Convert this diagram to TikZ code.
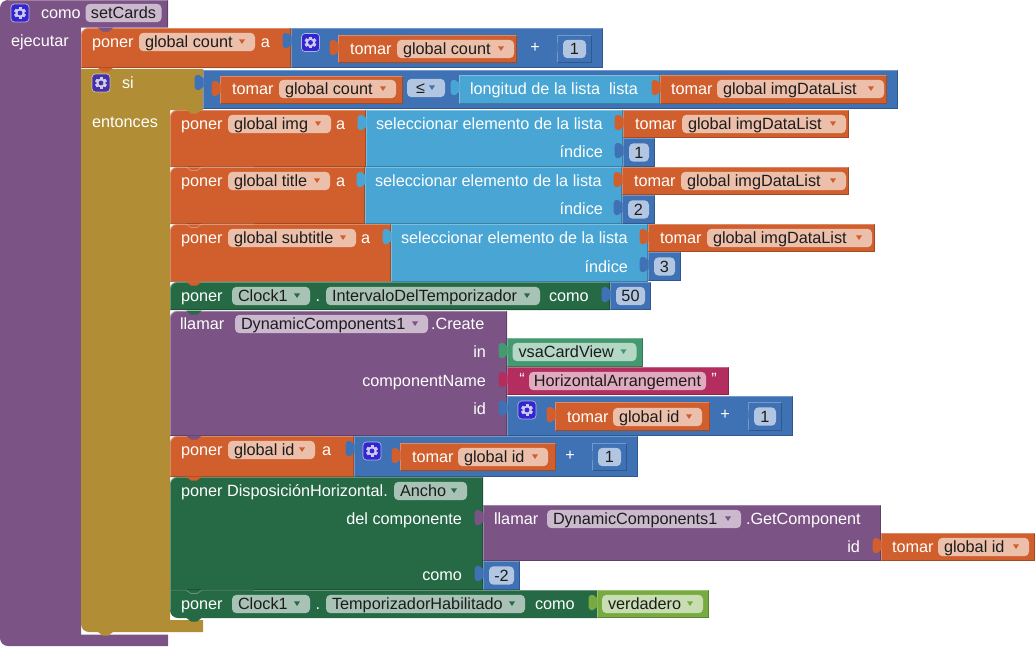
\documentclass[tikz,border=0pt]{standalone}
\usepackage{fontspec}
\setmainfont{Liberation Sans}
\definecolor{cpurple}{HTML}{7C5385}
\definecolor{corange}{HTML}{D05F2D}
\definecolor{cblue}{HTML}{3F71B5}
\definecolor{clight}{HTML}{49A6D4}
\definecolor{cgold}{HTML}{B18E35}
\definecolor{cdgreen}{HTML}{266A45}
\definecolor{cgreen}{HTML}{439A70}
\definecolor{cpink}{HTML}{B32D5E}
\definecolor{clime}{HTML}{77AB41}
\definecolor{cgear}{HTML}{3326D0}
\definecolor{cgeardark}{HTML}{4530A6}
\definecolor{forange}{HTML}{ECBFAB}
\definecolor{fblue}{HTML}{B2C6E1}
\definecolor{fdgreen}{HTML}{A8C3B5}
\definecolor{fpurple}{HTML}{CBBACE}
\definecolor{fpink}{HTML}{E1ABBF}
\definecolor{fgreen}{HTML}{B4D7C6}
\definecolor{flime}{HTML}{C9DDB3}
\definecolor{ctext}{HTML}{1C1C1C}
\newcounter{tn}
\tikzset{
  lab/.style={inner sep=0pt,outer sep=0pt,text=white,font=\fontsize{16.25}{18}\selectfont},
  fieldtxt/.style={lab,text=ctext},
  hi/.style={white,opacity=.28,line width=.8pt},
  lo/.style={black,opacity=.22,line width=.8pt},
}
% plain block
\newcommand\blk[5]{%
  \fill[#1] (#2,#3) rectangle (#4,#5);
  \draw[hi] (#2+.4,#5) -- (#2+.4,#3+.4) -- (#4,#3+.4);
  \draw[lo] (#4-.4,#3) -- (#4-.4,#5-.4) -- (#2,#5-.4);}
% block with rounded top-left corner
\newcommand\rblk[5]{%
  \fill[#1] (#2,#5) [rounded corners=7pt] -- (#2,#3) [sharp corners] -- (#4,#3) -- (#4,#5) -- cycle;
  \draw[hi] (#2+.4,#5) [rounded corners=7pt] -- (#2+.4,#3+.4) [sharp corners] -- (#4,#3+.4);
  \draw[lo] (#4-.4,#3) -- (#4-.4,#5-.4) -- (#2,#5-.4);}
% puzzle tab on the left of a block: colour, x, top y of block
\newcommand\tab[3]{%
  \fill[#1] (#2+.5,#3+8) -- (#2,#3+8) .. controls (#2-1.5,#3+8) and (#2-1.5,#3+5.5) .. (#2-4,#3+5)
     .. controls (#2-7,#3+4.5) and (#2-8.5,#3+6) .. (#2-8.5,#3+10)
     -- (#2-8.5,#3+15) .. controls (#2-8.5,#3+19) and (#2-7,#3+20.5) .. (#2-4,#3+20)
     .. controls (#2-1.5,#3+19.5) and (#2-1.5,#3+17) .. (#2,#3+17) -- (#2+.5,#3+17) -- cycle;}
% statement wedge
\newcommand\wedg[3]{%
  \fill[#1] (#2-8,#3-.5) -- (#2-3,#3+3.5) -- (#2+3,#3+3.5) -- (#2+8,#3-.5) -- cycle;}
% faint wedge between blocks of one colour
\newcommand\fwedg[2]{%
  \draw[white,opacity=.3,line width=.7pt] (#1-24,#2) -- (#1-8,#2) -- (#1-3,#2+3.5) -- (#1+3,#2+3.5) -- (#1+8,#2) -- (#1+60,#2);}
\newcommand\lbl[3]{\stepcounter{tn}\node[lab,anchor=base west] (t\thetn) at (#1,#2+5.5) {#3};}
\newcommand\rlbl[3]{\stepcounter{tn}\node[lab,anchor=base east] (t\thetn) at (#1,#2+5.5) {#3};}
\newcommand\clbl[3]{\stepcounter{tn}\node[lab,anchor=base] (t\thetn) at (#1,#2+5.5) {#3};}
% dropdown field: x1,x2,yc,fill,arrow,text
\newcommand\dd[6]{%
  \fill[#4,rounded corners=4.5pt] (#1,#3-9.2) rectangle (#2,#3+9.2);
  \fill[#5] (#2-16,#3-2.6) -- (#2-10,#3-2.6) -- (#2-13,#3+2) -- cycle;
  \stepcounter{tn}\node[fieldtxt,anchor=base west] (t\thetn) at (#1+6,#3+5.5) {#6};}
% text field without arrow
\newcommand\tf[5]{%
  \fill[#4,rounded corners=4.5pt] (#1,#3-9.2) rectangle (#2,#3+9.2);
  \stepcounter{tn}\node[fieldtxt,anchor=base] (t\thetn) at ({(#1+#2)/2},#3+5.5) {#5};}
% gear: cx,cy
\newcommand\gear[3][cgear]{%
  \fill[#1,draw=white,draw opacity=.6,line width=.7pt,rounded corners=3.5pt] (#2-9,#3-9) rectangle (#2+9,#3+9);
  \foreach \a in {0,60,...,300}{\fill[#1!25!white,rotate around={\a:(#2,#3)}] (#2-1.5,#3-5.8) rectangle (#2+1.5,#3+5.8);}
  \fill[#1!25!white] (#2,#3) circle (4.6pt);
  \fill[#1] (#2,#3) circle (2.4pt);}
% tomar block: x1,x2,y1,y2,text x,field x1,x2,yc,text
\newcommand\tomar[8]{%
  \blk{corange}{#1}{#3}{#2}{#4}\tab{corange}{#1}{#3}
  \lbl{#5}{#8}{tomar}
  \dd{#6}{#7}{#8}{forange}{corange}}
% number block
\newcommand\numb[5]{%
  \blk{cblue}{#1}{#3}{#2}{#4}\tab{cblue}{#1}{#3}
  \pgfmathsetmacro\ymid{(#3+#4)/2}
  \tf{#1+6}{#2-6}{\ymid}{fblue}{#5}}
\begin{document}
\begin{tikzpicture}[x=1pt,y=-1pt]
\useasboundingbox (0,0) rectangle (1035,646);
% procedure
\fill[cpurple] (30,646) [rounded corners=8pt] -- (0,646) -- (0,0) [sharp corners] -- (168,0) -- (168,27.5) -- (81,27.5) -- (81,634.5) -- (168,634.5) -- (168,646) -- cycle;
\draw[hi] (168,.4) -- (8,.4);
\draw[lo] (167.6,0) -- (167.6,27);
\gear{20}{13}
\lbl{41}{13}{como}
\tf{85.5}{161.5}{13}{fpurple}{setCards}
\lbl{11}{41}{ejecutar}
% if block
\fill[cgold] (81,69) -- (203,69) -- (203,110) -- (170,110) -- (170,620) -- (203,620) -- (203,632) [rounded corners=8pt] -- (81,632) [sharp corners] -- cycle;
\wedg{cgold}{105.5}{632}
\gear[cgeardark]{101}{83}
\lbl{122}{83}{si}
\lbl{92}{122}{entonces}
% first set
\rblk{corange}{81}{28}{291}{68}
\wedg{cpurple}{105.5}{28}
\wedg{corange}{105.5}{68}
\lbl{92}{42}{poner}
\dd{139}{255}{42}{forange}{corange}{global count}
\rlbl{270}{42}{a}
\blk{cblue}{291}{28}{603}{68}\tab{cblue}{291}{28}
\gear{310.5}{42.5}
\tomar{338}{517}{35}{63}{350}{397}{514}{49}{global count}
\clbl{535}{47}{+}
\numb{557}{592}{35}{63}{1}
% condition
\blk{cblue}{203}{70}{898}{109}\tab{cblue}{203}{70}
\tomar{220}{403}{76}{104}{232}{279}{396}{89}{global count}
\dd{407}{445}{88}{fblue}{cblue}{\hspace{3pt}≤}
\blk{clight}{459}{75}{660}{104}\tab{clight}{459}{75}
\lbl{470}{89}{longitud de la lista\hspace{4.5pt} lista}
\tomar{660}{887}{75}{104}{671}{717}{884}{89}{global imgDataList}
% global img
\rblk{corange}{170}{110}{366}{167}
\wedg{cgold}{194}{110}
\lbl{181}{124}{poner}
\dd{228}{331}{124}{forange}{corange}{global img}
\lbl{336}{124}{a}
\blk{clight}{366}{110}{623}{167}\tab{clight}{366}{110}
\lbl{376}{124}{seleccionar elemento de la lista}
\rlbl{603}{152}{índice}
\tomar{623}{849}{110}{138}{635}{682}{846}{124}{global imgDataList}
\numb{623}{655}{138}{167}{1}
% global title
\rblk{corange}{170}{167}{365}{224}
\fwedg{194}{167}
\lbl{181}{181}{poner}
\dd{228}{330}{181}{forange}{corange}{global title}
\lbl{336}{181}{a}
\blk{clight}{365}{167}{622}{224}\tab{clight}{365}{167}
\lbl{375}{181}{seleccionar elemento de la lista}
\rlbl{603}{209}{índice}
\tomar{622}{849}{167}{195}{634}{681}{846}{181}{global imgDataList}
\numb{622}{655}{195}{224}{2}
% global subtitle
\rblk{corange}{170}{224}{391}{281.5}
\fwedg{194}{224}
\lbl{181}{238}{poner}
\dd{228}{356}{238}{forange}{corange}{global subtitle}
\lbl{361}{238}{a}
\blk{clight}{391}{224}{648}{281.5}\tab{clight}{391}{224}
\lbl{401}{238}{seleccionar elemento de la lista}
\rlbl{628}{267}{índice}
\tomar{648}{875}{224}{252}{660}{707}{872}{238}{global imgDataList}
\numb{648}{681}{252}{281}{3}
% clock interval
\rblk{cdgreen}{170}{282}{610}{310}
\wedg{corange}{194}{282}
\lbl{181}{296}{poner}
\dd{232}{310}{296}{fdgreen}{cdgreen}{Clock1}
\clbl{318}{296}{.}
\dd{326}{540}{296}{fdgreen}{cdgreen}{IntervaloDelTemporizador}
\lbl{549}{296}{como}
\numb{610}{651}{282}{310}{50}
% dynamic create
\rblk{cpurple}{170}{311}{507}{436}
\wedg{cdgreen}{194}{311}
\lbl{180}{324}{llamar}
\dd{235}{428}{324}{fpurple}{cpurple}{DynamicComponents1}
\lbl{431}{324}{.Create}
\rlbl{486}{352}{in}
\rlbl{486}{381}{componentName}
\rlbl{486}{409}{id}
\blk{cgreen}{507}{338}{643}{366.5}\tab{cgreen}{507}{338}
\dd{512.5}{636.5}{352}{fgreen}{cgreen}{vsaCardView}
\blk{cpink}{507}{367}{729}{395}\tab{cpink}{507}{367}
\clbl{522}{379}{“}
\tf{529}{706}{381}{fpink}{HorizontalArrangement}
\clbl{714}{379}{”}
\blk{cblue}{507}{395.5}{793}{436}\tab{cblue}{507}{395.5}
\gear{527}{410}
\tomar{555}{709.5}{402}{431}{567}{613}{702}{417}{global id}
\clbl{725}{414}{+}
\numb{748}{782}{402}{431}{1}
% global id
\rblk{corange}{170}{436}{354}{477}
\wedg{cpurple}{194}{436}
\lbl{181}{450}{poner}
\dd{228}{315}{450}{forange}{corange}{global id}
\lbl{322}{450}{a}
\blk{cblue}{354}{436}{638}{477}\tab{cblue}{354}{436}
\gear{372}{451}
\tomar{400}{556}{443}{471}{412}{458}{548}{457}{global id}
\clbl{570}{455}{+}
\numb{592}{627}{443}{471}{1}
% arrangement width
\rblk{cdgreen}{170}{477}{483}{590}
\wedg{corange}{194}{477}
\lbl{181}{491}{poner DisposiciónHorizontal.}
\dd{394}{467}{491}{fdgreen}{cdgreen}{Ancho}
\rlbl{462}{519}{del componente}
\rlbl{462}{575}{como}
\blk{cpurple}{483}{505}{881}{561}\tab{cpurple}{483}{505}
\lbl{494}{519}{llamar}
\dd{547}{741}{519}{fpurple}{cpurple}{DynamicComponents1}
\lbl{746}{519}{.GetComponent}
\rlbl{860}{547}{id}
\tomar{881}{1035}{533}{561}{892}{938}{1029}{547}{global id}
\numb{483}{520}{561}{590}{-2}
% clock enabled
\fill[cdgreen] (170,590) -- (597,590) -- (597,618) [rounded corners=8pt] -- (170,618) [sharp corners] -- cycle;
\draw[hi] (170.4,590) -- (170.4,610);
\fwedg{194}{590}
\draw[white,opacity=.3,line width=.7pt] (254,590) -- (597,590);
\wedg{cdgreen}{194}{618}
\lbl{181}{604}{poner}
\dd{232}{310}{604}{fdgreen}{cdgreen}{Clock1}
\clbl{318}{604}{.}
\dd{326}{525}{604}{fdgreen}{cdgreen}{TemporizadorHabilitado}
\lbl{535}{604}{como}
\blk{clime}{597}{590}{709}{618}\tab{clime}{597}{590}
\dd{602}{703}{604}{flime}{clime}{verdadero}
\end{tikzpicture}
\end{document}
